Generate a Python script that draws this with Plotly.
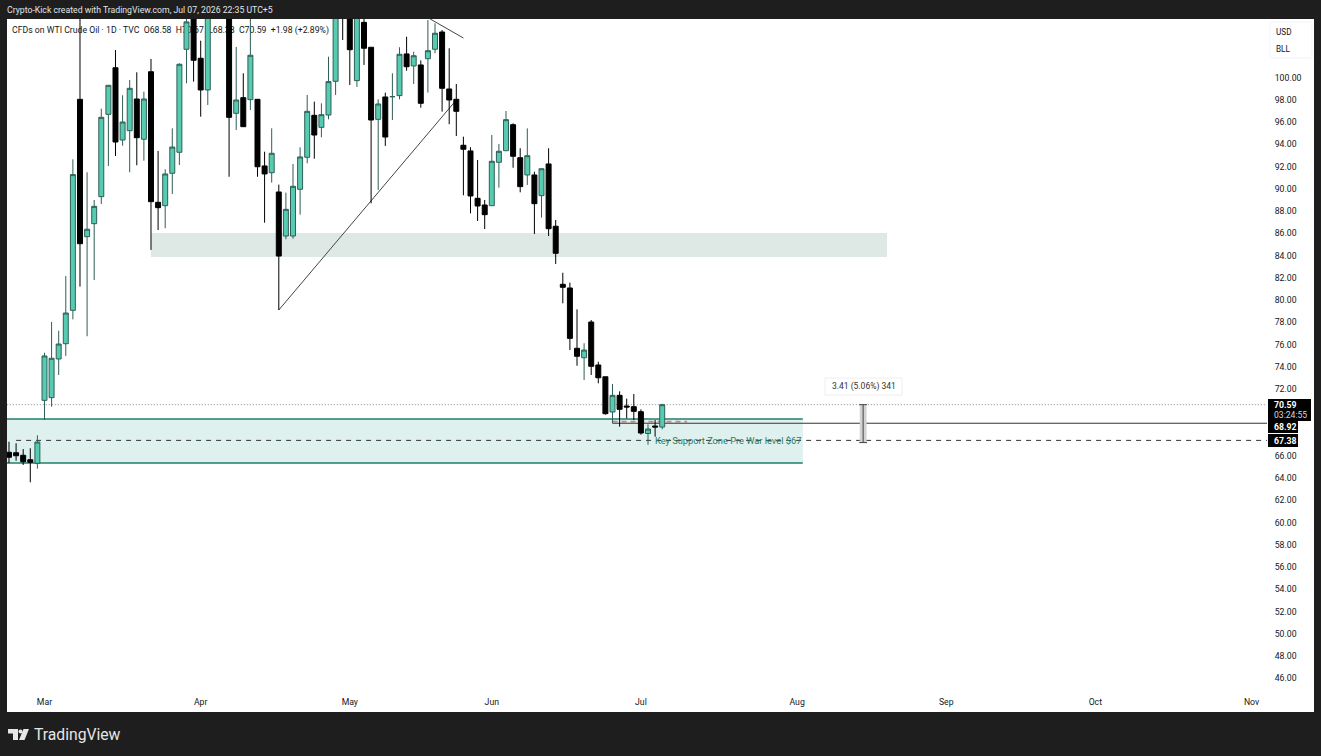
import plotly.graph_objects as go

# Daily OHLC (session index 0 = late Feb 2026)
opens = [66.31,66.27,66.04,65.64,65.32,70.98,71.22,74.70,76.07,79.07,98.04,85.69,86.86,89.29,96.69,100.88,94.38,95.22,98.07,94.45,
         100.52,88.78,88.48,91.39,93.28,102.54,108.00,101.73,98.88,109.0,108.5,108.0,96.78,98.19,98.01,98.04,92.05,91.44,89.71,85.75,
         85.75,89.95,92.83,96.60,95.52,96.63,99.66,108.0,108.0,99.72,104.96,102.72,96.24,98.25,98.28,98.37,102.12,101.04,101.13,101.69,
         102.54,104.09,98.97,98.04,93.91,93.40,89.14,88.54,88.48,92.38,93.42,95.76,92.79,91.24,91.24,89.38,92.23,86.63,81.41,81.08,
         75.66,74.81,78.02,74.16,73.10,69.93,71.43,70.47,70.41,69.96,68.00,68.67,68.58]
highs = [67.26,67.12,66.60,66.67,67.84,75.26,78.02,77.24,82.16,92.65,107.5,91.48,88.99,97.20,99.30,102.47,98.40,99.78,100.47,98.73,
         101.67,93.40,91.75,95.43,101.28,108.0,109.0,103.31,109.0,111.0,111.0,110.0,102.74,100.38,108.0,98.04,93.33,95.43,90.37,89.65,
         92.23,93.73,98.43,97.83,97.68,101.87,108.0,109.0,110.0,108.0,107.0,102.72,98.04,98.64,100.38,102.72,103.67,102.32,101.54,105.17,
         104.87,104.27,102.63,99.42,94.68,93.73,92.59,88.99,94.83,94.02,96.99,95.88,93.64,95.43,91.53,91.80,93.64,87.19,82.45,81.56,
         79.16,76.11,78.20,74.45,73.10,72.45,71.79,71.13,71.55,70.17,68.82,69.21,70.67]
lows = [65.35,65.55,65.17,63.61,64.84,69.21,70.41,73.26,74.97,78.26,81.20,76.74,81.80,88.63,92.05,92.95,93.87,91.48,92.11,92.52,
        84.50,86.29,86.45,89.53,92.14,99.48,99.63,96.48,97.53,106.0,106.0,91.08,95.28,95.58,97.08,91.08,86.95,90.55,79.10,85.46,
        85.51,87.67,92.29,92.70,94.63,96.24,98.43,103.37,99.33,99.15,101.13,88.69,89.89,93.85,96.18,98.04,100.61,99.42,97.29,98.64,
        102.18,96.93,95.80,94.74,89.41,87.79,87.10,86.38,88.48,90.10,93.42,91.89,89.68,90.34,85.93,87.40,85.75,83.24,79.70,75.50,
        74.09,72.81,73.26,72.51,69.69,68.92,68.61,69.36,69.21,67.89,66.99,67.71,68.38]
closes = [65.86,66.00,65.46,65.41,67.23,74.97,74.76,76.04,78.83,91.27,85.06,86.36,88.42,96.42,99.30,94.20,96.00,99.03,94.59,98.07,
          88.84,88.30,91.33,93.75,101.19,105.00,101.55,98.88,107.50,108.0,107.5,96.42,97.98,95.58,102.00,91.98,91.33,93.19,83.95,88.15,
          90.22,92.86,96.96,94.83,96.66,99.63,106.50,107.0,102.50,106.00,102.63,96.18,97.62,94.65,98.28,102.09,100.97,101.96,97.68,102.41,
          103.98,99.03,97.98,96.96,93.55,89.35,88.45,87.67,92.47,93.37,96.21,92.92,90.19,92.97,88.66,91.80,86.41,84.20,81.14,76.55,
          74.94,75.50,74.04,73.01,69.78,71.43,70.17,70.38,69.99,68.04,68.40,68.58,70.59]
sessions = list(range(len(closes)))

month_ticks = [5, 27, 48, 68, 89, 111, 132, 153, 175]
month_labels = ["Mar", "Apr", "May", "Jun", "Jul", "Aug", "Sep", "Oct", "Nov"]
price_ticks = [p for p in range(46, 102, 2) if p not in (68, 70)]
price_labels = [f"{p}.00" for p in price_ticks]

support_zone = (65.35, 69.30)
supply_zone = (83.87, 86.02)
support_end = 111.8
supply_span = (20, 123.66)
last_close = 70.59
mid_level = 68.92
pre_war_level = 67.38
pink_level = 69.06
pink_span = (85, 95.5)
rising_line = ((38, 79.1), (63, 97.98))
falling_line = ((59.3, 105.27), (64, 103.55))
measure_x = 120.3
measure_range = (67.18, 70.59)

L, R, T, B = 7, 1267, 19, 692
def px(x): return (x - L) / (R - L)
def py(y): return (B - y) / (B - T)

DARK = "#1e1e1e"
INK = "#131722"
FONT = "Roboto"
SMALL = 8.7

shapes = [
    dict(type="rect", xref="paper", yref="paper", x0=px(7), x1=px(1314), y0=py(712), y1=py(19),
         fillcolor="white", line_width=0, layer="below"),
    dict(type="rect", xref="paper", yref="paper", x0=px(5), x1=px(640), y0=py(36), y1=py(24),
         fillcolor="rgba(0,0,0,0)", line_width=0, layer="below",
         label=dict(text="CFDs on WTI Crude Oil · 1D · TVC\u00a0\u00a0O68.58\u00a0\u00a0H70.67\u00a0\u00a0L68.38\u00a0\u00a0C70.59\u00a0\u00a0+1.98 (+2.89%)",
                    textposition="middle left", font=dict(family=FONT, size=SMALL, color=INK), padding=4)),
    dict(type="rect", x0=supply_span[0], x1=supply_span[1], y0=supply_zone[0], y1=supply_zone[1],
         fillcolor="#dee9e6", line_width=0, layer="below"),
    dict(type="rect", x0=-2, x1=support_end, y0=support_zone[0], y1=support_zone[1],
         fillcolor="#dff1ee", line_width=0, layer="below"),
]
for lvl in support_zone:
    shapes.append(dict(type="line", x0=-2, x1=support_end, y0=lvl, y1=lvl,
                       line=dict(color="#1f7f6d", width=1.5), layer="below"))
for seg in (rising_line, falling_line):
    shapes.append(dict(type="line", x0=seg[0][0], y0=seg[0][1], x1=seg[1][0], y1=seg[1][1],
                       line=dict(color="#444444", width=1), layer="below"))
shapes += [
    dict(type="line", x0=-2, x1=178, y0=last_close, y1=last_close, line=dict(color="#888888", width=1, dash="1px,2px"), layer="below"),
    dict(type="line", x0=85, x1=178, y0=mid_level, y1=mid_level, line=dict(color="#333333", width=1), layer="below"),
    dict(type="line", x0=1, x1=178, y0=pre_war_level, y1=pre_war_level, line=dict(color="#333333", width=1, dash="5px,5px"), layer="below"),
    dict(type="line", x0=pink_span[0], x1=pink_span[1], y0=pink_level, y1=pink_level, line=dict(color="#bd8a8a", width=2, dash="5px,4px"), layer="below"),
    # measure tool
    dict(type="rect", x0=measure_x-0.48, x1=measure_x+0.48, y0=measure_range[0], y1=measure_range[1], fillcolor="#d2d2d2", line_width=0),
    dict(type="line", x0=measure_x, x1=measure_x, y0=measure_range[0], y1=measure_range[1], line=dict(color="#444444", width=1)),
    dict(type="line", x0=measure_x-0.55, x1=measure_x+0.55, y0=measure_range[0], y1=measure_range[0], line=dict(color="#444444", width=1)),
    dict(type="line", x0=measure_x-0.55, x1=measure_x+0.55, y0=measure_range[1], y1=measure_range[1], line=dict(color="#444444", width=1)),
    dict(type="rect", xref="paper", yref="paper", x0=px(825), x1=px(902), y0=py(395), y1=py(378), fillcolor="white", line=dict(color="#eeeeee", width=1)),
    # currency / unit box
    dict(type="rect", xref="paper", yref="paper", x0=px(1270), x1=px(1312), y0=py(58), y1=py(22), fillcolor="white", line=dict(color="#f0f3fa", width=1)),
    # price tags
    dict(type="rect", xref="paper", yref="paper", x0=px(1268), x1=px(1311), y0=py(421), y1=py(399), fillcolor="#000000", line_width=0),
    dict(type="rect", xref="paper", yref="paper", x0=px(1268), x1=px(1298), y0=py(433), y1=py(421), fillcolor="#000000", line_width=0),
    dict(type="rect", xref="paper", yref="paper", x0=px(1268), x1=px(1298), y0=py(447), y1=py(434), fillcolor="#000000", line_width=0),
    # TradingView mark
    dict(type="path", xref="paper", yref="paper",
         path=f"M{px(8)},{py(729)} L{px(18)},{py(729)} L{px(18)},{py(740)} L{px(13)},{py(740)} L{px(13)},{py(733.5)} L{px(8)},{py(733.5)} Z",
         fillcolor="#e6e6e6", line_width=0),
    dict(type="circle", xref="paper", yref="paper", x0=px(18.5), x1=px(22.5), y0=py(733.5), y1=py(729.5), fillcolor="#e6e6e6", line_width=0),
    dict(type="path", xref="paper", yref="paper",
         path=f"M{px(23.5)},{py(729)} L{px(29)},{py(729)} L{px(24.5)},{py(740)} L{px(19)},{py(740)} Z",
         fillcolor="#e6e6e6", line_width=0),
]

def note(x, y, text, size=SMALL, color=INK, anchor="left", family=FONT):
    return dict(xref="paper", yref="paper", x=px(x), y=py(y), text=text, showarrow=False,
                xanchor=anchor, yanchor="middle", xshift=0, font=dict(family=family, size=size, color=color))

annotations = [
    note(5, 10, "Crypto-Kick created with TradingView.com, Jul 07, 2026 22:35 UTC+5", SMALL, "#e4e4e4"),
    note(32, 734, "TradingView", 15.7, "#e6e6e6"),
    note(1274, 31.5, "USD", 8.2),
    note(1274, 49.5, "BLL", 8.2),
    note(1272, 405, "<b>70.59</b>", SMALL, "white"),
    note(1272, 414.5, "03:24:55", 8.6, "#d8d8d8"),
    note(1272, 427, "<b>68.92</b>", SMALL, "white"),
    note(1272, 440.5, "<b>67.38</b>", SMALL, "white"),
    note(863.5, 386, "3.41 (5.06%) 341", 8.5, "#333333", "center"),
    note(653.5, 440.5, "Key Support Zone Pre War level $67", 9.25, "#1f7f6d"),
]

fig = go.Figure(go.Candlestick(
    x=sessions, open=opens, high=highs, low=lows, close=closes,
    increasing=dict(fillcolor="#56cbb2", line=dict(color="#2f5f56", width=1)),
    decreasing=dict(fillcolor="#000000", line=dict(color="#000000", width=1)),
    whiskerwidth=0, showlegend=False, hoverinfo="skip"))

fig.update_layout(
    width=1321, height=756, autosize=False,
    margin=dict(l=L, r=1321-R, t=T, b=756-B, pad=0),
    paper_bgcolor=DARK, plot_bgcolor="rgba(0,0,0,0)",
    boxgap=0.3, boxgroupgap=0, showlegend=False,
    shapes=shapes, annotations=annotations,
    font=dict(family=FONT, color=INK),
    xaxis=dict(range=[-0.28, 177.18], rangeslider=dict(visible=False), showgrid=False, zeroline=False, showline=False,
               tickmode="array", tickvals=month_ticks, ticktext=month_labels, ticks="outside", ticklen=2,
               tickcolor="rgba(0,0,0,0)", tickfont=dict(family=FONT, size=SMALL, color=INK)),
    yaxis=dict(range=[44.76, 105.26], side="right", showgrid=False, zeroline=False, showline=False,
               tickmode="array", tickvals=price_ticks, ticktext=price_labels, ticks="outside", ticklen=5,
               tickcolor="rgba(0,0,0,0)", tickfont=dict(family=FONT, size=SMALL, color=INK)),
)

fig.write_html("out.html", config=dict(displayModeBar=False),
               post_script="document.body.style.margin='0';document.body.style.overflow='hidden';")
